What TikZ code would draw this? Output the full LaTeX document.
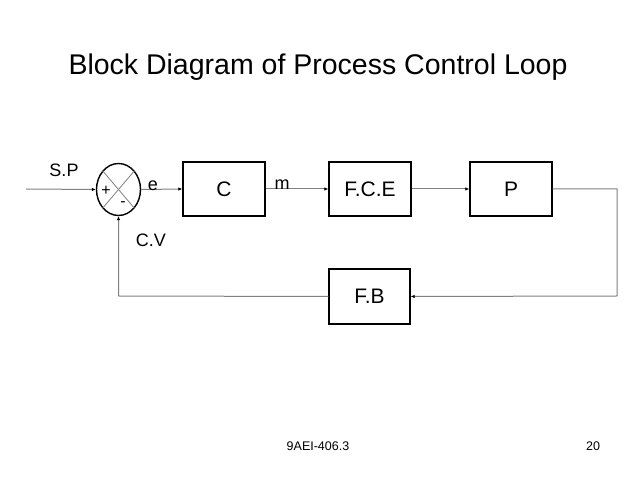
\documentclass[tikz,border=0pt]{standalone}
\usepackage{fontspec}
\setmainfont{Liberation Sans}
\usetikzlibrary{shapes.geometric,arrows.meta}
\begin{document}
\begin{tikzpicture}[x=1pt,y=-1pt,
  blk/.style={draw=black,line width=1.4pt,minimum width=82pt,minimum height=54pt,inner sep=0pt,font=\fontsize{21}{24}\selectfont},
  wire/.style={draw=black!50,line width=1pt},
  arr/.style={wire,-{Latex[length=4pt,width=3.5pt,color=black]}},
  lbl/.style={inner sep=0pt,font=\fontsize{18}{20}\selectfont}]
\useasboundingbox[fill=white] (0,0) rectangle (638,478);
\node[font=\fontsize{28.5}{32}\selectfont,anchor=base] (title) at (318,75) {Block Diagram of Process Control Loop};
\coordinate (in) at (26,189);
\node[ellipse,draw=black,line width=1.4pt,minimum width=44pt,minimum height=52pt,inner sep=0pt] (sum) at (118.5,189.5) {};
\draw[draw=black!50,line width=0.8pt] (sum.north west) -- (sum.south east);
\draw[draw=black!50,line width=0.8pt] (sum.north east) -- (sum.south west);
\node[blk] (c) at (224,189) {C};
\node[blk] (fce) at (370,189) {F.C.E};
\node[blk] (p) at (511,189) {P};
\node[blk,minimum width=81pt,minimum height=55pt] (fb) at (369.5,296.5) {F.B};
\coordinate (r1) at (617,189);
\coordinate (r2) at (617,296);
\coordinate (l1) at (118.5,296);
\draw[arr] (in) -- (sum.west);
\draw[arr] (sum.east) -- (c.west);
\draw[arr] (c.east) -- (fce.west);
\draw[arr] (fce.east) -- (p.west);
\draw[arr] (p.east) -- (r1) -- (r2) -- (fb.east);
\draw[arr] (fb.west) -- (l1) -- (sum.south);
\node[lbl] (sp) at (64,170) {S.P};
\node[lbl,font=\fontsize{16}{18}\selectfont] (plus) at (106,191) {+};
\node[lbl,font=\fontsize{16}{18}\selectfont] (minus) at (123,204) {-};
\node[lbl] (e) at (153,186) {e};
\node[lbl] (m) at (282,185) {m};
\node[lbl] (cv) at (151,240) {C.V};
\node[inner sep=0pt,font=\fontsize{12.5}{14}\selectfont] (foot) at (318,446) {9AEI-406.3};
\node[inner sep=0pt,font=\fontsize{12.5}{14}\selectfont] (pg) at (593,446) {20};
\end{tikzpicture}
\end{document}
